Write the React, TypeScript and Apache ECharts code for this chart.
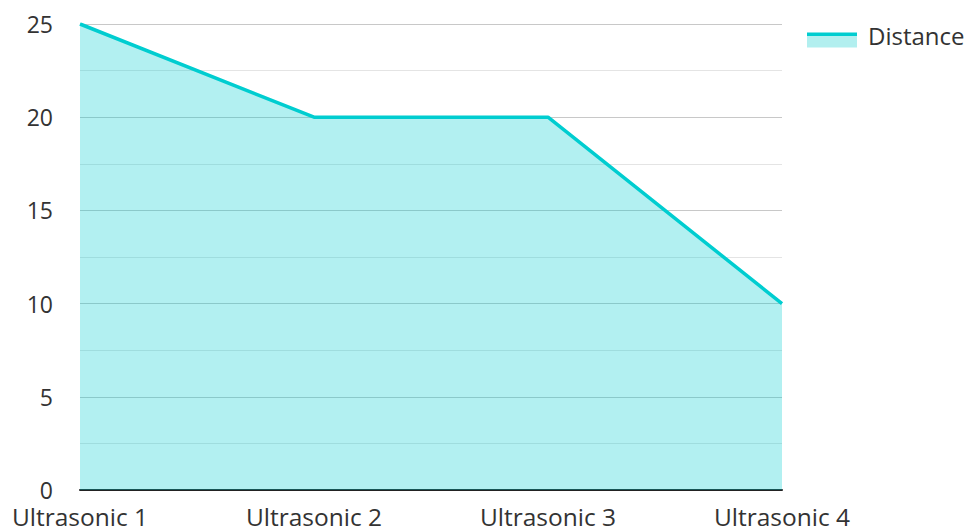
import React, { useEffect, useRef } from "react";
import * as echarts from "echarts";

const categories = ["Ultrasonic 1", "Ultrasonic 2", "Ultrasonic 3", "Ultrasonic 4"];
const distance = [25, 20, 20, 10];
const seriesName = "Distance";

export default function App() {
  const ref = useRef<HTMLDivElement>(null);
  useEffect(() => {
    document.body.style.margin = "0";
    const chart = echarts.init(ref.current!, null, { renderer: "svg" });
    const font = "'Open Sans', sans-serif";
    const lineColor = "#00cdd0";
    const fillColor = "#b2efef";
    chart.setOption({
      animation: false,
      textStyle: { fontFamily: font },
      legend: {
        data: [seriesName],
        left: 807,
        top: 20,
        padding: 0,
        icon: "rect",
        itemWidth: 56,
        itemHeight: 12,
        itemGap: 10,
        itemStyle: { opacity: 0 },
        textStyle: { fontSize: 24, lineHeight: 30, color: "#333", fontFamily: font },
      },
      graphic: [
        {
          type: "rect",
          left: 807,
          top: 36,
          shape: { width: 50, height: 11.5 },
          style: { fill: fillColor },
          z: 100,
        },
        {
          type: "rect",
          left: 807,
          top: 32.5,
          shape: { width: 50, height: 3.5 },
          style: { fill: lineColor },
          z: 101,
        },
      ],
      grid: { left: 80, right: 187, top: 24, bottom: 41 },
      xAxis: {
        type: "category",
        data: categories,
        boundaryGap: false,
        axisLine: { show: true, lineStyle: { color: "#222", width: 2 } },
        axisTick: { show: false },
        axisLabel: {
          fontSize: 24.5,
          lineHeight: 24,
          color: "#333",
          margin: 14,
          fontFamily: font,
        },
      },
      yAxis: {
        type: "value",
        min: 0,
        max: 25,
        interval: 5,
        axisLine: { show: false },
        axisTick: { show: false },
        axisLabel: { fontSize: 23, lineHeight: 18, color: "#333", margin: 27, fontFamily: font },
        splitLine: { show: true, lineStyle: { color: "#c8c8c8", width: 1 } },
        minorTick: { show: false, splitNumber: 2 },
        minorSplitLine: { show: true, lineStyle: { color: "#e4e4e4", width: 1 } },
      },
      series: [
        {
          name: seriesName,
          type: "line",
          data: distance,
          symbol: "none",
          lineStyle: { color: lineColor, width: 3.5 },
          itemStyle: { color: fillColor },
          areaStyle: { color: lineColor, opacity: 0.3 },
          z: 1,
        },
      ],
    });
    return () => chart.dispose();
  }, []);
  return <div ref={ref} style={{ width: 969, height: 531 }} />;
}
